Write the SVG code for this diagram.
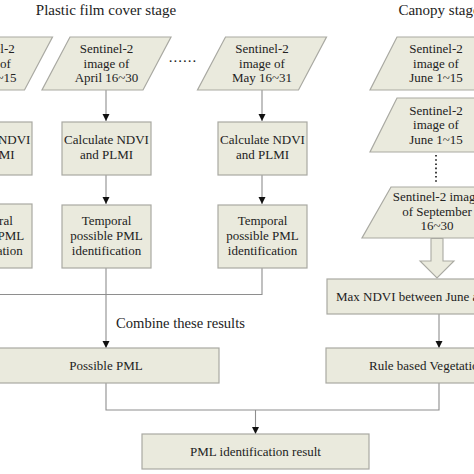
<svg xmlns="http://www.w3.org/2000/svg" width="474" height="474" viewBox="0 0 474 474">
<style>
.n{fill:#eaeadd;stroke:#a9a9a2;stroke-width:1.2}
.t{font-family:"Liberation Serif","Times New Roman",serif;font-size:13px;fill:#222;text-anchor:middle}
.h{font-family:"Liberation Serif","Times New Roman",serif;font-size:15px;fill:#222;text-anchor:middle}
.c{fill:none;stroke:#8e8e8e;stroke-width:1.1}
</style>
<defs>
<marker id="ah" markerUnits="userSpaceOnUse" markerWidth="7" markerHeight="8" refX="7" refY="3.5" orient="auto">
<path d="M0,0 L7,3.5 L0,7 z" fill="#111"/>
</marker>
</defs>
<rect width="474" height="474" fill="#fff"/>
<text class="h" x="106" y="15">Plastic film cover stage</text>
<text class="h" x="439" y="15">Canopy stage</text>
<text class="t" x="183" y="62" style="font-size:15px;letter-spacing:1px">......</text>

<g id="connectors">
<line class="c" x1="-12" y1="90" x2="-12" y2="121" marker-end="url(#ah)"/>
<line class="c" x1="-12" y1="175" x2="-12" y2="203" marker-end="url(#ah)"/>
<line class="c" x1="106" y1="90" x2="106" y2="121" marker-end="url(#ah)"/>
<line class="c" x1="106" y1="175" x2="106" y2="204" marker-end="url(#ah)"/>
<line class="c" x1="262" y1="90" x2="262" y2="121" marker-end="url(#ah)"/>
<line class="c" x1="262" y1="175" x2="262" y2="204" marker-end="url(#ah)"/>
<polyline class="c" points="-12,268 -12,294.5 262,294.5 262,268"/>
<line class="c" x1="106" y1="268" x2="106" y2="348" marker-end="url(#ah)"/>
<line x1="436" y1="155" x2="436" y2="184" stroke="#111" stroke-width="1.6" stroke-dasharray="1.6 2.6"/>
<path d="M431,238.5 L443,238.5 L443,261 L454,261 L437,278 L420,261 L431,261 Z" fill="#eaeadd" stroke="#a9a9a2" stroke-width="1.1"/>
<line class="c" x1="439" y1="314" x2="439" y2="348" marker-end="url(#ah)"/>
<polyline class="c" points="106,383 106,410 439,410 439,383"/>
<line class="c" x1="255.5" y1="410" x2="255.5" y2="434" marker-end="url(#ah)"/>
</g>

<g id="img-apr1">
<polygon class="n" points="-48.5,37 52.5,37 24.5,90 -76.5,90"/>
<text class="t" x="-12" y="53">Sentinel-2</text>
<text class="t" x="-12" y="67.5">image of</text>
<text class="t" x="-12" y="82">April 1~15</text>
</g>
<g id="img-apr2">
<polygon class="n" points="70,37 171,37 143,90 42,90"/>
<text class="t" x="106.5" y="53">Sentinel-2</text>
<text class="t" x="106.5" y="67.5">image of</text>
<text class="t" x="106.5" y="82">April 16~30</text>
</g>
<g id="img-may">
<polygon class="n" points="225.5,37 326.5,37 298.5,90 197.5,90"/>
<text class="t" x="262" y="53">Sentinel-2</text>
<text class="t" x="262" y="67.5">image of</text>
<text class="t" x="262" y="82">May 16~31</text>
</g>

<g id="calc-1">
<rect class="n" x="-57" y="122" width="89" height="53"/>
<text class="t" x="-12" y="144">Calculate NDVI</text>
<text class="t" x="-12" y="159">and PLMI</text>
</g>
<g id="calc-2">
<rect class="n" x="62" y="122" width="89" height="53"/>
<text class="t" x="106.5" y="144">Calculate NDVI</text>
<text class="t" x="106.5" y="159">and PLMI</text>
</g>
<g id="calc-3">
<rect class="n" x="218" y="122" width="89" height="53"/>
<text class="t" x="262.5" y="144">Calculate NDVI</text>
<text class="t" x="262.5" y="159">and PLMI</text>
</g>

<g id="temp-1">
<rect class="n" x="-57" y="204" width="89" height="64"/>
<text class="t" x="-12" y="225">Temporal</text>
<text class="t" x="-12" y="240">possible PML</text>
<text class="t" x="-12" y="255">identification</text>
</g>
<g id="temp-2">
<rect class="n" x="62" y="205" width="89" height="63"/>
<text class="t" x="106.5" y="225">Temporal</text>
<text class="t" x="106.5" y="240">possible PML</text>
<text class="t" x="106.5" y="255">identification</text>
</g>
<g id="temp-3">
<rect class="n" x="218" y="205" width="89" height="63"/>
<text class="t" x="262.5" y="225">Temporal</text>
<text class="t" x="262.5" y="240">possible PML</text>
<text class="t" x="262.5" y="255">identification</text>
</g>

<text class="h" x="116" y="328" style="text-anchor:start;font-size:14.6px">Combine these results</text>

<g id="possible-pml">
<rect class="n" x="-7" y="348" width="226" height="35"/>
<text class="t" x="106" y="370">Possible PML</text>
</g>

<g id="img-jun1">
<polygon class="n" points="397,37 502,37 475,90 370,90"/>
<text class="t" x="436" y="53">Sentinel-2</text>
<text class="t" x="436" y="67.5">image of</text>
<text class="t" x="436" y="82">June 1~15</text>
</g>
<g id="img-jun2">
<polygon class="n" points="397,98 502,98 475,152 370,152"/>
<text class="t" x="436" y="114.5">Sentinel-2</text>
<text class="t" x="436" y="129">image of</text>
<text class="t" x="436" y="143.5">June 1~15</text>
</g>
<g id="img-sep">
<polygon class="n" points="391,187 512,187 483,238 362,238"/>
<text class="t" x="437" y="201">Sentinel-2 image</text>
<text class="t" x="437" y="215.5">of September</text>
<text class="t" x="437" y="230">16~30</text>
</g>

<g id="max-ndvi">
<rect class="n" x="327" y="279" width="226" height="35"/>
<text class="t" x="336" y="301" style="text-anchor:start">Max NDVI between June and September</text>
</g>
<g id="rule-veg">
<rect class="n" x="326" y="348" width="226" height="35"/>
<text class="t" x="369" y="370" style="text-anchor:start">Rule based Vegetation</text>
</g>

<g id="pml-result">
<rect class="n" x="142" y="434" width="227" height="35"/>
<text class="t" x="255.5" y="456">PML identification result</text>
</g>
</svg>
